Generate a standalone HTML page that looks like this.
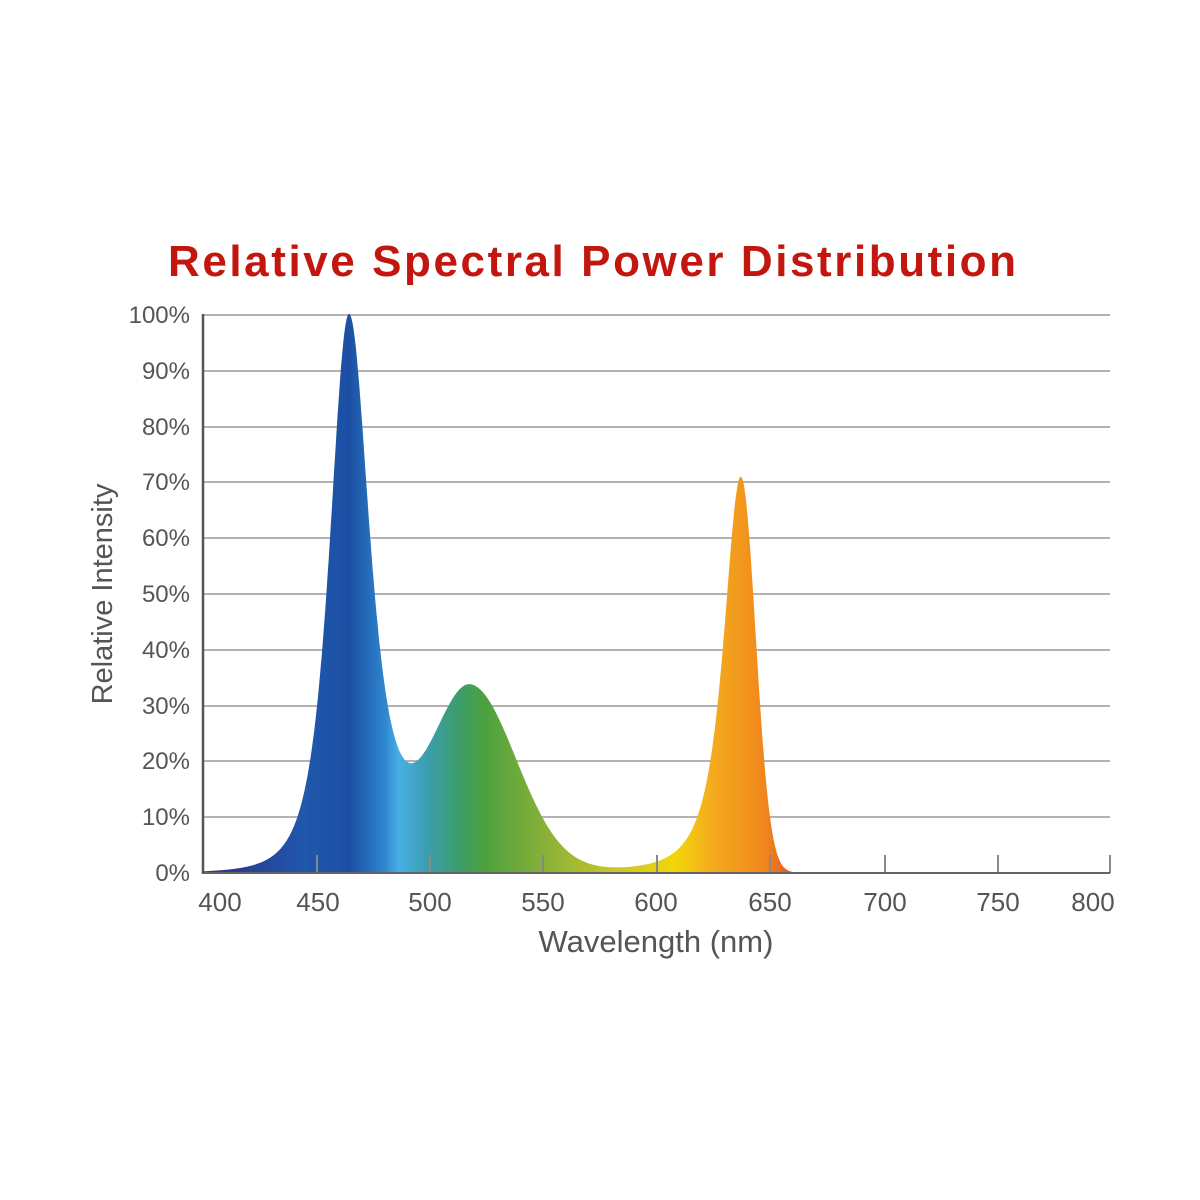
<!DOCTYPE html>
<html><head><meta charset="utf-8"><style>
html,body{margin:0;padding:0;background:#fff;}
svg{display:block}
text{font-family:"Liberation Sans",sans-serif;}
</style></head><body>
<svg id="s" width="1200" height="1200" viewBox="0 0 1200 1200" xmlns="http://www.w3.org/2000/svg">
<defs>
<linearGradient id="g" gradientUnits="userSpaceOnUse" x1="204" y1="0" x2="1110" y2="0">
<stop offset="0.03" stop-color="#2a3a90"/>
<stop offset="0.11" stop-color="#1f58ad"/>
<stop offset="0.16" stop-color="#1c4fa3"/>
<stop offset="0.20" stop-color="#2f86cf"/>
<stop offset="0.215" stop-color="#48b0e6"/>
<stop offset="0.245" stop-color="#3c9eb0"/>
<stop offset="0.28" stop-color="#3c9d6e"/>
<stop offset="0.31" stop-color="#4ca13e"/>
<stop offset="0.38" stop-color="#8cb238"/>
<stop offset="0.45" stop-color="#c5c62a"/>
<stop offset="0.52" stop-color="#f2d60a"/>
<stop offset="0.56" stop-color="#f4ac1e"/>
<stop offset="0.62" stop-color="#f0861c"/>
<stop offset="0.66" stop-color="#d84a1e"/>
<stop offset="1" stop-color="#c43030"/>
</linearGradient>
</defs>
<text x="592" y="276" text-anchor="middle" font-size="44" font-weight="bold" fill="#c2160f" textLength="848" lengthAdjust="spacing">Relative Spectral Power Distribution</text>
<g stroke="#999" stroke-width="1.5">
<line x1="204" y1="315" x2="1110" y2="315"/>
<line x1="204" y1="371" x2="1110" y2="371"/>
<line x1="204" y1="427" x2="1110" y2="427"/>
<line x1="204" y1="482" x2="1110" y2="482"/>
<line x1="204" y1="538" x2="1110" y2="538"/>
<line x1="204" y1="594" x2="1110" y2="594"/>
<line x1="204" y1="650" x2="1110" y2="650"/>
<line x1="204" y1="706" x2="1110" y2="706"/>
<line x1="204" y1="761" x2="1110" y2="761"/>
<line x1="204" y1="817" x2="1110" y2="817"/>
</g>
<path id="area" fill="url(#g)" d=""/>
<g stroke="#888" stroke-width="2">
<line x1="317" y1="855" x2="317" y2="873"/><line x1="430" y1="855" x2="430" y2="873"/>
<line x1="543" y1="855" x2="543" y2="873"/><line x1="657" y1="855" x2="657" y2="873"/>
<line x1="770" y1="855" x2="770" y2="873"/><line x1="885" y1="855" x2="885" y2="873"/>
<line x1="998" y1="855" x2="998" y2="873"/><line x1="1110" y1="855" x2="1110" y2="873"/>
</g>
<line x1="204" y1="873" x2="1110" y2="873" stroke="#666" stroke-width="2"/>
<line x1="203" y1="314" x2="203" y2="874" stroke="#555" stroke-width="2.5"/>
<g font-size="24" fill="#555" text-anchor="end">
<text x="190" y="323">100%</text><text x="190" y="379">90%</text><text x="190" y="435">80%</text>
<text x="190" y="490">70%</text><text x="190" y="546">60%</text><text x="190" y="602">50%</text>
<text x="190" y="658">40%</text><text x="190" y="714">30%</text><text x="190" y="769">20%</text>
<text x="190" y="825">10%</text><text x="190" y="881">0%</text>
</g>
<g font-size="26" fill="#555" text-anchor="middle">
<text x="220" y="911">400</text><text x="318" y="911">450</text><text x="430" y="911">500</text>
<text x="543" y="911">550</text><text x="656" y="911">600</text><text x="770" y="911">650</text>
<text x="885" y="911">700</text><text x="998" y="911">750</text><text x="1093" y="911">800</text>
</g>
<text x="656" y="952" font-size="31" fill="#555" text-anchor="middle">Wavelength (nm)</text>
<text transform="translate(112,594) rotate(-90)" font-size="29" fill="#555" text-anchor="middle">Relative Intensity</text>
</svg>
<script>
function f(l){
 var d=l-464,b;
 if(d<0) b=100*Math.pow(1+Math.pow(d/15.5,2),-2);
 else b=100*Math.pow(1+Math.pow(d/14.5,2),-1.5);
 var dg=l-518,g=32*Math.exp(-dg*dg/(2*(dg<0?17*17:20*20)));
 var dr=l-637,r;
 if(dr<0) r=71*Math.pow(1+Math.pow(dr/11.7,2),-1.5); else r=71*Math.exp(-dr*dr/(2*6.5*6.5));
 return b+g+r;
}
var p="M204,873";
for(var l=400;l<=800;l+=0.5){
 var x=204+(l-400)*906/400, y=873-f(l)*5.58;
 p+="L"+x.toFixed(1)+","+y.toFixed(1);
}
p+="L1110,873Z";
document.getElementById("area").setAttribute("d",p);
</script>
</body></html>
